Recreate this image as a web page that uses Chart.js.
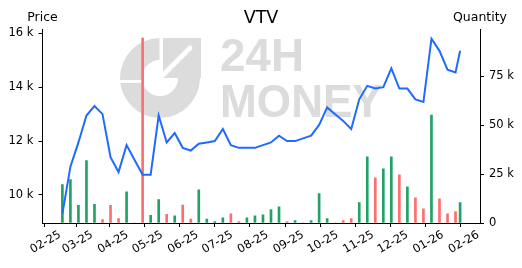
<!DOCTYPE html>
<html>
<head>
<meta charset="utf-8">
<script src="https://cdn.jsdelivr.net/npm/chart.js@4/dist/chart.umd.min.js"></script>
<style>
  html, body { margin: 0; padding: 0; background: #fff; }
</style>
</head>
<body>
<canvas id="chart" width="522" height="268"></canvas>
<script>
// weekly points (last one is a partial week)
const weeks = [
    '2025-02-03', '2025-02-10', '2025-02-17', '2025-02-24', '2025-03-03', '2025-03-10',
    '2025-03-17', '2025-03-24', '2025-03-31', '2025-04-07', '2025-04-14', '2025-04-21',
    '2025-04-28', '2025-05-05', '2025-05-12', '2025-05-19', '2025-05-26', '2025-06-02',
    '2025-06-09', '2025-06-16', '2025-06-23', '2025-06-30', '2025-07-07', '2025-07-14',
    '2025-07-21', '2025-07-28', '2025-08-04', '2025-08-11', '2025-08-18', '2025-08-25',
    '2025-09-01', '2025-09-08', '2025-09-15', '2025-09-22', '2025-09-29', '2025-10-06',
    '2025-10-13', '2025-10-20', '2025-10-27', '2025-11-03', '2025-11-10', '2025-11-17',
    '2025-11-24', '2025-12-01', '2025-12-08', '2025-12-15', '2025-12-22', '2025-12-29',
    '2026-01-05', '2026-01-12', '2026-01-16'
];
const prices = [
    9300, 11050, 11950, 12950, 13300, 13000, 11400, 10850, 11850, 11300,
    10750, 10750, 12950, 11950, 12300, 11750, 11650, 11900, 11950, 12000,
    12450, 11850, 11750, 11750, 11750, 11850, 11950, 12200, 12000, 12000,
    12100, 12200, 12600, 13250, 13000, 12750, 12450, 13550, 14050, 13950,
    14000, 14700, 13950, 13950, 13550, 13450, 15800, 15350, 14650, 14550,
    15350
];
const volumes = [
    19700, 22200, 9000, 31900, 9500, 1800, 9000, 2200, 16000, 0,
    94500, 3900, 12000, 4400, 3700, 9200, 2000, 16900, 2000, 700,
    2700, 4700, 700, 2700, 3700, 4200, 6800, 8300, 700, 1200,
    0, 1200, 15100, 2200, 0, 1200, 2200, 10400, 33800, 23100,
    27700, 33800, 24600, 18500, 12900, 7300, 55200, 12400, 4700, 5800,
    10400
];
const monthTicks = [
    '2025-02-01', '2025-03-01', '2025-04-01', '2025-05-01', '2025-06-01', '2025-07-01',
    '2025-08-01', '2025-09-01', '2025-10-01', '2025-11-01', '2025-12-01', '2026-01-01',
    '2026-02-01'
];
const priceTicks = [10000, 12000, 14000, 16000];
const volumeTicks = [0, 25000, 50000, 75000];

const UP = '#21a366';
const DOWN = '#ff6e6e';
const LINE = '#1f6bff';
const FONT = "'DejaVu Sans', sans-serif";

const toDay = (s) => Date.parse(s + 'T00:00:00Z') / 86400000;
const dayX = weeks.map(toDay);
const span = dayX[dayX.length - 1] - dayX[0];

const priceData = prices.map((p, i) => ({ x: dayX[i], y: p }));
const volumeData = volumes.map((v, i) => ({ x: dayX[i], y: v }));
const barColors = prices.map((p, i) => (i === 0 || p >= prices[i - 1]) ? UP : DOWN);

const pad2 = (n) => String(n).padStart(2, '0');
const monthLabel = (day) => {
    const d = new Date(day * 86400000);
    return pad2(d.getUTCMonth() + 1) + '-' + pad2(d.getUTCFullYear() % 100);
};
const kLabel = (v) => v === 0 ? '0' : (v / 1000) + ' k';

const watermark = {
    id: 'watermark',
    beforeDatasetsDraw(chart) {
        const ctx = chart.ctx;
        ctx.save();
        ctx.fillStyle = '#dcdcdc';
        ctx.beginPath();
        ctx.arc(160, 78, 40, 0, Math.PI * 1.5);
        ctx.arc(160, 78, 18, Math.PI * 1.5, 0, true);
        ctx.closePath();
        ctx.fill();
        ctx.fillRect(163, 38, 38, 40);
        ctx.strokeStyle = '#fff';
        ctx.lineWidth = 3;
        ctx.beginPath();
        ctx.moveTo(117, 81.5);
        ctx.lineTo(143, 81.5);
        ctx.moveTo(161, 36);
        ctx.lineTo(161, 60);
        ctx.stroke();
        ctx.lineCap = 'round';
        ctx.lineWidth = 5;
        ctx.beginPath();
        ctx.moveTo(161, 77);
        ctx.lineTo(190, 48);
        ctx.stroke();
        ctx.font = "bold 46px 'Liberation Sans', sans-serif";
        ctx.textBaseline = 'alphabetic';
        ctx.fillText('24H', 220, 71, 84);
        ctx.fillText('MONEY', 220, 117, 162);
        ctx.restore();
    },
    afterDraw(chart) {
        const ctx = chart.ctx;
        const area = chart.chartArea;
        ctx.save();
        ctx.fillStyle = '#000';
        ctx.textAlign = 'center';
        ctx.textBaseline = 'alphabetic';
        ctx.font = '17.5px ' + FONT;
        ctx.fillText('VTV', 261, 23);
        ctx.font = '12.5px ' + FONT;
        ctx.fillText('Price', area.left, 21);
        ctx.fillText('Quantity', area.right, 21);
        ctx.restore();
    }
};

const axisGrid = { drawOnChartArea: false, drawTicks: true, tickLength: 4, color: '#000' };
const axisBorder = { display: true, color: '#000', width: 1 };
const tickFont = { family: FONT, size: 11.5 };

new Chart(document.getElementById('chart'), {
    type: 'bar',
    data: {
        datasets: [
            {
                type: 'line',
                data: priceData,
                yAxisID: 'y',
                borderColor: LINE,
                borderWidth: 2,
                pointRadius: 0,
                tension: 0,
                order: 0
            },
            {
                type: 'bar',
                data: volumeData,
                yAxisID: 'y1',
                backgroundColor: barColors,
                barThickness: 2,
                order: 1
            }
        ]
    },
    options: {
        responsive: false,
        animation: false,
        layout: { padding: { top: 29, left: 0, right: 0, bottom: 0 } },
        plugins: { legend: { display: false }, tooltip: { enabled: false } },
        scales: {
            x: {
                type: 'linear',
                offset: false,
                min: dayX[0] - span * 0.05,
                max: dayX[dayX.length - 1] + span * 0.05,
                grid: axisGrid,
                border: axisBorder,
                afterBuildTicks: (scale) => { scale.ticks = monthTicks.map(s => ({ value: toDay(s) })); },
                afterFit: (scale) => { scale.height = 45; },
                ticks: {
                    autoSkip: false,
                    maxRotation: 30,
                    minRotation: 30,
                    padding: 1,
                    color: '#000',
                    font: tickFont,
                    callback: (v) => monthLabel(v)
                }
            },
            y: {
                position: 'left',
                min: 8960,
                max: 16160,
                grid: axisGrid,
                border: axisBorder,
                afterBuildTicks: (scale) => { scale.ticks = priceTicks.map(v => ({ value: v })); },
                afterFit: (scale) => { scale.width = 42.5; },
                ticks: { color: '#000', font: tickFont, padding: 5, callback: (v) => kLabel(v) }
            },
            y1: {
                position: 'right',
                min: 0,
                max: 99200,
                grid: axisGrid,
                border: axisBorder,
                afterBuildTicks: (scale) => { scale.ticks = volumeTicks.map(v => ({ value: v })); },
                afterFit: (scale) => { scale.width = 42; },
                ticks: { color: '#000', font: tickFont, padding: 5, callback: (v) => kLabel(v) }
            }
        }
    },
    plugins: [watermark]
});
</script>
</body>
</html>
